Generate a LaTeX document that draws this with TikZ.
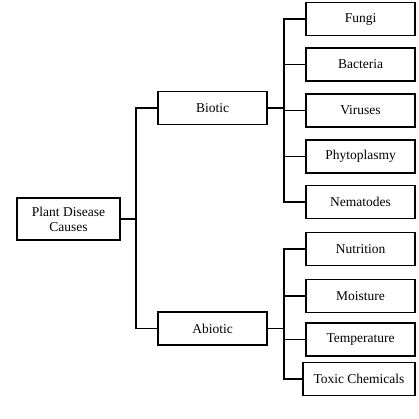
\documentclass[tikz,border=0pt]{standalone}
\usepackage{fontspec}
\setmainfont{Liberation Serif}
\usepackage{tikz}

\begin{document}
\begin{tikzpicture}[x=1pt, y=-1pt, line width=1.1pt,
    causebox/.style={shape=rectangle, draw=black, minimum width=109pt, minimum height=33pt, inner sep=2pt, font=\fontsize{13.5}{15}\selectfont}]

    \useasboundingbox (0,0) rectangle (419,418);

    \node[causebox, minimum width=103pt, minimum height=42pt, align=center] (root) at (68.5,219) {Plant Disease\\Causes};
    \node[causebox] (biotic) at (212.5,108) {Biotic};
    \node[causebox] (abiotic) at (212.5,328.5) {Abiotic};

    \node[causebox] (fungi) at (360.5,19) {Fungi};
    \node[causebox] (bacteria) at (360.5,64.5) {Bacteria};
    \node[causebox] (viruses) at (360.5,110.5) {Viruses};
    \node[causebox] (phyto) at (360.5,156.5) {Phytoplasmy};
    \node[causebox] (nematodes) at (360.5,202) {Nematodes};

    \node[causebox] (nutrition) at (360.5,249) {Nutrition};
    \node[causebox] (moisture) at (360.5,296) {Moisture};
    \node[causebox] (temperature) at (360.5,339.5) {Temperature};
    \node[causebox, minimum width=112pt] (toxic) at (359,379) {Toxic Chemicals};

    \coordinate (rj) at (136,219);
    \coordinate (bj) at (284,108);
    \coordinate (aj) at (284,328.5);

    \draw (root.east) -- (rj);
    \draw (biotic.west) -| (rj);
    \draw (abiotic.west) -| (rj);

    \draw (biotic.east) -- (bj);
    \draw (fungi.west) -| (bj);
    \draw (bacteria.west) -| (bj);
    \draw (viruses.west) -| (bj);
    \draw (phyto.west) -| (bj);
    \draw (nematodes.west) -| (bj);

    \draw (abiotic.east) -- (aj);
    \draw (nutrition.west) -| (aj);
    \draw (moisture.west) -| (aj);
    \draw (temperature.west) -| (aj);
    \draw (toxic.west) -| (aj);

\end{tikzpicture}
\end{document}
